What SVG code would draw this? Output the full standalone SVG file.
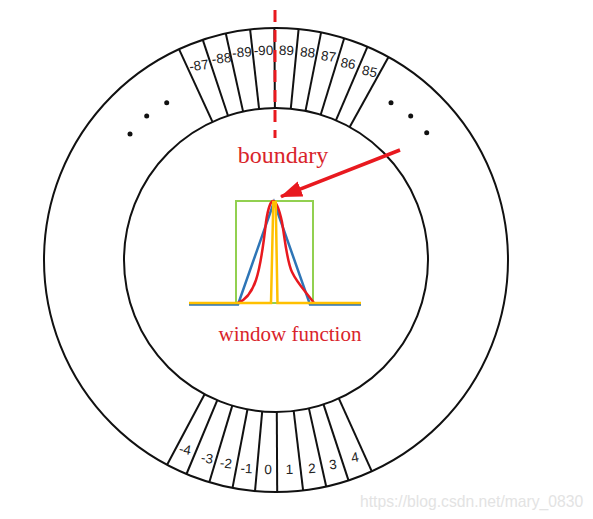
<svg xmlns="http://www.w3.org/2000/svg" width="593" height="519" viewBox="0 0 593 519">
<style>
.ring{fill:none;stroke:#111;stroke-width:2}
.seg line{stroke:#111;stroke-width:2}
.lbl{font-family:"Liberation Sans","Open Sans",sans-serif;font-size:13.5px;fill:#222;text-anchor:middle}
.red{font-family:"Liberation Serif","Times New Roman",serif;fill:#d9242b;text-anchor:middle}
.dot{fill:#111}
</style>
<defs>
<marker id="ah" markerUnits="userSpaceOnUse" markerWidth="24" markerHeight="20" refX="21" refY="8" orient="auto">
<path d="M0,0 L22,8 L0,16 z" fill="#e8191f"/>
</marker>
</defs>
<rect width="593" height="519" fill="#fff"/>
<g id="ring">
<circle class="ring" cx="276" cy="260" r="232"/>
<circle class="ring" cx="276" cy="260" r="152"/>
</g>
<g id="top-cells" class="seg">
<line x1="212.5" y1="121.9" x2="179.0" y2="49.2"/>
<line x1="228.0" y1="115.8" x2="202.8" y2="39.9"/>
<line x1="243.1" y1="111.6" x2="225.8" y2="33.5"/>
<line x1="259.1" y1="108.9" x2="250.1" y2="29.4"/>
<line x1="274.9" y1="108.0" x2="274.4" y2="28.0"/>
<line x1="290.8" y1="108.7" x2="298.6" y2="29.1"/>
<line x1="305.5" y1="110.9" x2="321.1" y2="32.4"/>
<line x1="320.7" y1="114.7" x2="344.2" y2="38.3"/>
<line x1="335.9" y1="120.3" x2="367.4" y2="46.8"/>
<line x1="349.7" y1="127.1" x2="388.5" y2="57.1"/>
</g>
<g id="top-labels">
<text class="lbl" x="199" y="70" transform="rotate(-8 199 66)">-87</text>
<text class="lbl" x="221.5" y="63" transform="rotate(-6 221.5 59)">-88</text>
<text class="lbl" x="242" y="57" transform="rotate(-4 242 53)">-89</text>
<text class="lbl" x="263.5" y="55" transform="rotate(-2 263.5 51)">-90</text>
<text class="lbl" x="286.3" y="55" transform="rotate(2 286.3 51)">89</text>
<text class="lbl" x="307.5" y="57" transform="rotate(5 307.5 53)">88</text>
<text class="lbl" x="328.5" y="61" transform="rotate(7 328.5 57)">87</text>
<text class="lbl" x="348" y="68" transform="rotate(10 348 64)">86</text>
<text class="lbl" x="369.5" y="76" transform="rotate(12 369.5 72)">85</text>
</g>
<g id="bottom-cells" class="seg">
<line x1="204.6" y1="394.2" x2="167.1" y2="464.8"/>
<line x1="217.3" y1="400.2" x2="186.5" y2="474.0"/>
<line x1="232.3" y1="405.6" x2="209.3" y2="482.2"/>
<line x1="247.5" y1="409.3" x2="232.5" y2="487.9"/>
<line x1="262.2" y1="411.4" x2="255.0" y2="491.1"/>
<line x1="276.8" y1="412.0" x2="277.2" y2="492.0"/>
<line x1="293.7" y1="411.0" x2="303.1" y2="490.4"/>
<line x1="308.9" y1="408.4" x2="326.2" y2="486.5"/>
<line x1="323.5" y1="404.4" x2="348.5" y2="480.4"/>
<line x1="338.8" y1="398.4" x2="371.8" y2="471.3"/>
</g>
<g id="bottom-labels">
<text class="lbl" x="185" y="454" transform="rotate(10 185 450)">-4</text>
<text class="lbl" x="207" y="463" transform="rotate(8 207 459)">-3</text>
<text class="lbl" x="226" y="468" transform="rotate(6 226 464)">-2</text>
<text class="lbl" x="246.5" y="473" transform="rotate(3 246.5 469)">-1</text>
<text class="lbl" x="268" y="474" transform="rotate(1 268 470)">0</text>
<text class="lbl" x="289.5" y="474" transform="rotate(-1 289.5 470)">1</text>
<text class="lbl" x="312" y="473" transform="rotate(-4 312 469)">2</text>
<text class="lbl" x="333" y="469" transform="rotate(-7 333 465)">3</text>
<text class="lbl" x="355" y="462" transform="rotate(-10 355 458)">4</text>
</g>
<g id="dots">
<circle class="dot" cx="166.7" cy="102.7" r="2.5"/>
<circle class="dot" cx="146.7" cy="116" r="2.5"/>
<circle class="dot" cx="130" cy="134" r="2.5"/>
<circle class="dot" cx="391" cy="102.7" r="2.5"/>
<circle class="dot" cx="410.7" cy="116" r="2.5"/>
<circle class="dot" cx="426.7" cy="132.7" r="2.5"/>
</g>
<g id="boundary-line">
<line x1="275" y1="10" x2="275" y2="138" stroke="#e8191f" stroke-width="3" stroke-dasharray="12 8"/>
</g>
<g id="boundary-label">
<text class="red" x="283" y="163" font-size="24">boundary</text>
</g>
<g id="window-plot">
<rect x="236" y="201" width="77" height="102" fill="none" stroke="#92d050" stroke-width="2"/>
<polyline points="189,304.5 238,304.5 274,202 310,304.5 361,304.5" fill="none" stroke="#2e75b6" stroke-width="2.5"/>
<path d="M238,303 C245,300 252,292 256,280 C261,265 264,240 266,222 C268,208 271,201 273,201 C276,201 279,208 282,222 C285,240 287,262 292,272 C297,283 306,292 314,303" fill="none" stroke="#e8191f" stroke-width="2.5"/>
<polyline points="189,303 271,303 273.3,202 275.7,202 277.5,303 361,303" fill="none" stroke="#ffc000" stroke-width="2.5"/>
</g>
<g id="connectors">
<line x1="400" y1="150" x2="281" y2="196.6" stroke="#e8191f" stroke-width="3.5" marker-end="url(#ah)"/>
</g>
<g id="window-label">
<text class="red" x="290" y="341" font-size="21">window function</text>
</g>
<g id="watermark">
<text x="360" y="507" font-family="Liberation Sans,Arial,sans-serif" font-size="15.7" fill="#e3e3e3">https://blog.csdn.net/mary_0830</text>
</g>
</svg>
